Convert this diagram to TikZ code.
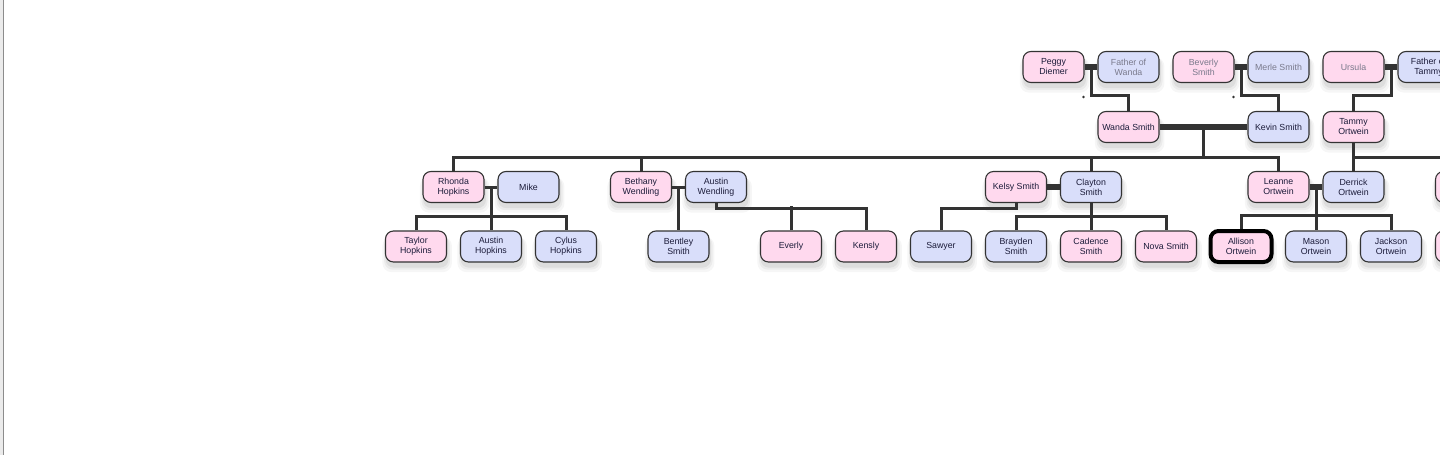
\documentclass[tikz,border=0pt]{standalone}
\usepackage{fontspec}
\setmainfont{Liberation Sans}
\usepackage{tikz}
\usetikzlibrary{shadows}
\definecolor{girlfill}{HTML}{FFD9EE}
\definecolor{boyfill}{HTML}{D9DEFA}
\definecolor{linkgray}{HTML}{333333}
\definecolor{namecol}{HTML}{1C1C3A}
\definecolor{fadedcol}{HTML}{7A7A8C}

\begin{document}
\begin{tikzpicture}[x=1pt,y=-1pt,
  softshade/.style={
    general shadow={fill=black, opacity=.035, shadow xshift=1pt, shadow yshift=-7pt, shadow scale=1.14},
    general shadow={fill=black, opacity=.045, shadow xshift=1pt, shadow yshift=-6pt, shadow scale=1.08},
    general shadow={fill=black, opacity=.06, shadow xshift=1pt, shadow yshift=-5pt, shadow scale=1.03}},
  pbox/.style={draw=linkgray, line width=1.1pt, rounded corners=8pt, minimum width=61pt, minimum height=31pt, inner sep=0pt, align=center, text=namecol, font=\fontsize{8.8}{10}\selectfont, softshade},
  girl/.style={pbox, fill=girlfill},
  boy/.style={pbox, fill=boyfill},
  faded/.style={text=fadedcol},
  focus/.style={line width=4pt, draw=black},
  link/.style={draw=linkgray, line width=3pt},
  couple/.style={draw=linkgray, line width=6pt}]
\fill[white] (0,0) rectangle (1440,455);
\useasboundingbox (0,0) rectangle (1440,455);
\fill[black!8] (0,0) rectangle (3,455);
\draw[black!45, line width=1.2pt] (3.5,0) -- (3.5,455);

% grandparents
\node[girl] (peggy) at (1053.5,67) {Peggy\\Diemer};
\node[boy, faded] (fatherw) at (1128.5,67) {Father of\\Wanda};
\node[girl, faded] (beverly) at (1203.5,67) {Beverly\\Smith};
\node[boy, faded] (merle) at (1278.5,67) {Merle Smith};
\node[girl, faded] (ursula) at (1353.5,67) {Ursula};
\node[boy] (fathert) at (1428.5,67) {Father of\\Tammy};

% parents
\node[girl] (wanda) at (1128.5,127) {Wanda Smith};
\node[boy] (kevin) at (1278.5,127) {Kevin Smith};
\node[girl] (tammy) at (1353.5,127) {Tammy\\Ortwein};

% children and spouses
\node[girl] (rhonda) at (453.5,187) {Rhonda\\Hopkins};
\node[boy] (mike) at (528.5,187) {Mike};
\node[girl] (bethany) at (641,187) {Bethany\\Wendling};
\node[boy] (austinw) at (716,187) {Austin\\Wendling};
\node[girl] (kelsy) at (1016,187) {Kelsy Smith};
\node[boy] (clayton) at (1091,187) {Clayton\\Smith};
\node[girl] (leanne) at (1278.5,187) {Leanne\\Ortwein};
\node[boy] (derrick) at (1353.5,187) {Derrick\\Ortwein};
\node[girl] (derricksib) at (1466,187) {};

% grandchildren
\node[girl] (taylor) at (416,246.5) {Taylor\\Hopkins};
\node[boy] (austinh) at (491,246.5) {Austin\\Hopkins};
\node[boy] (cylus) at (566,246.5) {Cylus\\Hopkins};
\node[boy] (bentley) at (678.5,246.5) {Bentley\\Smith};
\node[girl] (everly) at (791,246.5) {Everly};
\node[girl] (kensly) at (866,246.5) {Kensly};
\node[boy] (sawyer) at (941,246.5) {Sawyer};
\node[boy] (brayden) at (1016,246.5) {Brayden\\Smith};
\node[girl] (cadence) at (1091,246.5) {Cadence\\Smith};
\node[girl] (nova) at (1166,246.5) {Nova Smith};
\node[girl, focus] (allison) at (1241,246.5) {Allison\\Ortwein};
\node[boy] (mason) at (1316,246.5) {Mason\\Ortwein};
\node[boy] (jackson) at (1391,246.5) {Jackson\\Ortwein};
\node[girl] (cousin) at (1466,246.5) {};

% top couples
\draw[couple] (peggy) -- coordinate (pw) (fatherw);
\draw[link] (pw) |- ([yshift=15pt]wanda.north) -- (wanda.north);
\draw[couple] (beverly) -- coordinate (bm) (merle);
\draw[link] (bm) |- ([yshift=15pt]kevin.north) -- (kevin.north);
\draw[couple] (ursula) -- coordinate (uf) (fathert);
\draw[link] (uf) |- ([yshift=15pt]tammy.north) -- (tammy.north);
\fill[linkgray] (1083.5,97) circle (1.3pt);
\fill[linkgray] (1233.5,97) circle (1.3pt);

% wanda and kevin
\draw[couple] (wanda) -- coordinate (wk) (kevin);
\draw[link] (wk) -- ++(0,30) coordinate (wkbar);
\draw[link] (rhonda.north) |- (wkbar) -| (leanne.north);
\draw[link] (bethany.north) -- (bethany.north |- wkbar);
\draw[link] (clayton.north) -- (clayton.north |- wkbar);

% tammy
\draw[link] (tammy) -- (derrick);
\draw[link] (tammy.south |- wkbar) -| (derricksib.north);

% families below
\draw[link] (rhonda) -- coordinate (rm) (mike);
\draw[link] (rm) -- (rm |- austinh.north);
\draw[link] (taylor.north) -- ++(0,-14) -| (cylus.north);

\draw[link] (bethany) -- coordinate (ba) (austinw);
\draw[link] (ba) -- (ba |- bentley.north);
\draw[link] (austinw.south) -- ++(0,5) -| (kensly.north);
\draw[link] (everly.north) -- ++(0,-24);

\draw[couple] (kelsy) -- (clayton);
\draw[link] (kelsy.south) -- ++(0,5) -| (sawyer.north);
\draw[link] (clayton) -- (cadence);
\draw[link] (brayden.north) -- ++(0,-14) -| (nova.north);

\draw[couple] (leanne) -- coordinate (ld) (derrick);
\draw[link] (ld) -- (ld |- mason.north);
\draw[link] (allison.north) -- ++(0,-14) -| (jackson.north);
\end{tikzpicture}
\end{document}
